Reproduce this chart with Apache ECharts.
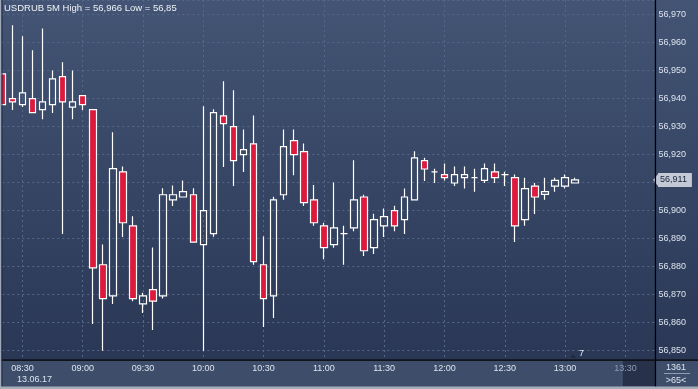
<!DOCTYPE html>
<html><head><meta charset="utf-8">
<script src="https://cdn.jsdelivr.net/npm/echarts@6/dist/echarts.min.js"></script>
<style>html,body{margin:0;padding:0;background:#2f3d5a}#c{width:698px;height:389px}</style>
</head><body><div id="c"></div>
<script>
const times = [
 '08:20','08:25','08:30','08:35','08:40','08:45','08:50','08:55',
 '09:00','09:05','09:10','09:15','09:20','09:25','09:30','09:35','09:40','09:45','09:50','09:55',
 '10:00','10:05','10:10','10:15','10:20','10:25','10:30','10:35','10:40','10:45','10:50','10:55',
 '11:00','11:05','11:10','11:15','11:20','11:25','11:30','11:35','11:40','11:45','11:50','11:55',
 '12:00','12:05','12:10','12:15','12:20','12:25','12:30','12:35','12:40','12:45','12:50','12:55',
 '13:00','13:05','13:10','13:15','13:20','13:25','13:30','13:35','13:40','13:45'];
const opens = [56.9489,56.9400,56.9379,56.9400,56.9361,56.9379,56.9479,56.9370,56.9411,56.9361,
 56.8807,56.8696,56.9139,56.8946,56.8667,56.8718,56.8696,56.9039,56.9049,56.9057,
 56.8879,56.8918,56.9339,56.9300,56.9200,56.9239,56.8807,56.8696,56.9057,56.9250,
 56.9211,56.9039,56.8946,56.8879,56.8918,56.8939,56.9049,56.8868,56.8946,56.9000,
 56.8968,56.9039,56.9179,56.9139,56.9129,56.9099,56.9118,56.9118,56.9108,56.9139,
 56.9129,56.9118,56.8968,56.9088,56.9058,56.9088,56.9088,56.9099];
const closes = [56.9379,56.9389,56.9421,56.9350,56.9389,56.9471,56.9389,56.9389,56.9379,56.8796,
 56.8686,56.9150,56.8957,56.8686,56.8696,56.8677,56.9057,56.9057,56.9068,56.8888,
 56.9000,56.9350,56.9311,56.9179,56.9218,56.8818,56.8686,56.9039,56.9229,56.9200,
 56.9029,56.8957,56.8868,56.8939,56.8918,56.9039,56.8857,56.8968,56.8979,56.8946,
 56.9049,56.9189,56.9149,56.9139,56.9118,56.9129,56.9129,56.9118,56.9150,56.9118,
 56.9129,56.8946,56.9079,56.9049,56.9068,56.9108,56.9118,56.9110];
const lows = [56.9379,56.9360,56.9370,56.9350,56.9327,56.9349,56.8917,56.9327,56.9360,56.8595,
 56.8500,56.8667,56.8906,56.8677,56.8635,56.8574,56.8686,56.9017,56.9049,56.8888,
 56.8500,56.8907,56.9156,56.9088,56.9138,56.8807,56.8585,56.8617,56.9039,56.9127,
 56.9017,56.8946,56.8827,56.8868,56.8807,56.8927,56.8838,56.8845,56.8906,56.8927,
 56.8917,56.9039,56.9106,56.9099,56.9108,56.9088,56.9079,56.9068,56.9099,56.9099,
 56.9088,56.8888,56.8946,56.8988,56.9039,56.9068,56.9079,56.9099];
const highs = [56.9489,56.9662,56.9623,56.9573,56.9651,56.9501,56.9530,56.9501,56.9411,56.9361,
 56.8879,56.9280,56.9158,56.8980,56.8707,56.8869,56.9080,56.9090,56.9108,56.9080,
 56.9373,56.9362,56.9462,56.9430,56.9290,56.9340,56.8908,56.9050,56.9290,56.9290,
 56.9240,56.9092,56.8957,56.9101,56.8946,56.9180,56.9057,56.8989,56.9008,56.9018,
 56.9079,56.9212,56.9189,56.9150,56.9169,56.9158,56.9158,56.9150,56.9169,56.9169,
 56.9139,56.9129,56.9118,56.9099,56.9118,56.9118,56.9129,56.9118];
const yMin = 56.84, yMax = 56.97525, yStep = 0.01;
const titleText = 'USDRUB 5M High = 56,966 Low = 56,85';
const dateText = '13.06.17';

const candles = opens.map((o, i) => [o, closes[i], lows[i], highs[i]]);
const lastClose = closes[closes.length - 1];
const fmt = v => v.toFixed(3).replace('.', ',');
const onStep = v => Math.abs(v / yStep - Math.round(v / yStep)) < 1e-6;
const labelEvery = i => (i - 2) % 6 === 0;
const FONT = 'Liberation Sans';

const chart = echarts.init(document.getElementById('c'), null, {renderer: 'canvas'});
chart.setOption({
  animation: false,
  backgroundColor: new echarts.graphic.LinearGradient(0, 0, 0, 1, [
    {offset: 0, color: '#435474'}, {offset: 1, color: '#283553'}]),
  grid: {left: 2.3, right: 42.45, top: 0, bottom: 10.3, containLabel: false},
  xAxis: [{
    type: 'category', data: times, boundaryGap: false, position: 'bottom',
    axisLine: {show: false}, axisTick: {show: false}, axisLabel: {show: false},
    splitLine: {show: true, interval: labelEvery, lineStyle: {color: '#56678a', type: [2, 3], width: 1}}
  }, {
    type: 'category', data: times, boundaryGap: false, position: 'bottom', offset: -18.7, z: 20,
    axisLine: {show: false}, axisTick: {show: false}, splitLine: {show: false},
    axisLabel: {interval: labelEvery, fontFamily: FONT, fontSize: 9, margin: 4,
      color: (v) => v === '13:30' ? '#8d9cb6' : '#dde4ef'}
  }],
  yAxis: {
    type: 'value', position: 'right', min: yMin, max: yMax, interval: yStep, scale: true,
    axisLine: {show: false}, axisTick: {show: false},
    axisLabel: {fontFamily: FONT, fontSize: 9, color: '#dde4ef', margin: 3,
      formatter: v => (!onStep(v) || Math.abs(v - yMin) < 1e-6) ? '' : fmt(v)},
    splitLine: {show: true, lineStyle: {color: '#56678a', type: [2, 3], width: 1}}
  },
  series: [{
    type: 'candlestick', data: candles, clip: false, barWidth: 7,
    itemStyle: {color: 'rgba(0,0,0,0)', color0: '#dc1a3c', borderColor: '#ffffff', borderColor0: '#ffffff', borderWidth: 1.2},
    markLine: {
      silent: true, animation: false, precision: 3,
      symbol: ['none', 'path://M0,0 L10,0 L5,8 Z'], symbolSize: [12, 5],
      lineStyle: {width: 0, color: '#c3cad6'},
      label: {show: true, position: 'end', distance: 2.5, formatter: () => fmt(lastClose),
        backgroundColor: '#c3cad6', color: '#15233a', fontFamily: FONT, fontSize: 9,
        padding: [3, 5, 2, 2]},
      data: [{yAxis: lastClose}]
    }
  }],
  graphic: [
    {type: 'rect', z: 5, shape: {x: 0, y: 360, width: 698, height: 29}, style: {fill: '#3d4d6a'}},
    {type: 'rect', z: 6, shape: {x: 622, y: 361, width: 33, height: 25}, style: {fill: '#27324a'}},
    {type: 'rect', z: 7, shape: {x: 621.5, y: 361, width: 1, height: 25}, style: {fill: '#4a5a78'}},
    {type: 'rect', z: 30, shape: {x: 0, y: 359.5, width: 698, height: 1.3}, style: {fill: '#000000'}},
    {type: 'rect', z: 30, shape: {x: 654.8, y: 0, width: 1.3, height: 389}, style: {fill: '#000000'}},
    {type: 'rect', z: 30, shape: {x: 0, y: 0, width: 1.5, height: 389}, style: {fill: '#9ea8b8'}},
    {type: 'rect', z: 30, shape: {x: 1.5, y: 0, width: 1, height: 389}, style: {fill: '#1e2940'}},
    {type: 'rect', z: 30, shape: {x: 0, y: 386.5, width: 698, height: 2.5}, style: {fill: '#a6aebb'}},
    {type: 'text', z: 30, left: 4, top: 3, style: {text: titleText, fill: '#eef2f8', font: '9.5px "Liberation Sans"'}},
    {type: 'text', z: 30, left: 17, top: 375, style: {text: dateText, fill: '#dde4ef', font: '9px "Liberation Sans"'}},
    {type: 'text', z: 30, left: 579, top: 349, style: {text: '7', fill: '#e6ecf5', font: '9px "Liberation Sans"'}},
    {type: 'polygon', z: 30, shape: {points: [[570, 358], [576, 358], [573, 354]]}, style: {fill: '#1f2a40'}},
    {type: 'text', z: 30, x: 676, y: 368, style: {text: '1361', fill: '#dde4ef', font: '9px "Liberation Sans"', align: 'center', verticalAlign: 'middle'}},
    {type: 'rect', z: 30, shape: {x: 664, y: 373, width: 26, height: 1}, style: {fill: '#8e9bb0'}},
    {type: 'text', z: 30, x: 676, y: 381, style: {text: '>65<', fill: '#dde4ef', font: '9px "Liberation Sans"', align: 'center', verticalAlign: 'middle'}}
  ]
});
</script></body></html>
